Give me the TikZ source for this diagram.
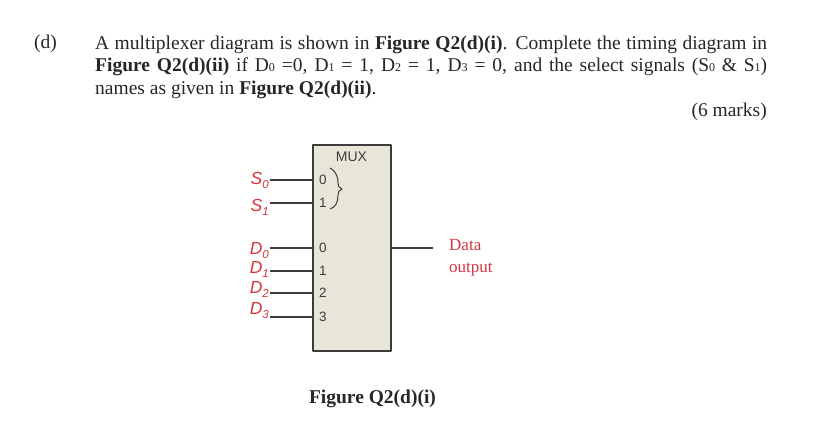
\documentclass[tikz,border=0pt]{standalone}
\usepackage{fontspec}
\setmainfont{Liberation Serif}
\setsansfont{Liberation Sans}
\definecolor{muxfill}{HTML}{E9E6D9}
\definecolor{wire}{HTML}{3C3C3C}
\definecolor{labelred}{HTML}{D8343C}
\newcommand{\bodyfont}{\fontsize{19.5}{22.5}\selectfont}
\newcommand{\sm}[1]{{\fontsize{12}{12}\selectfont #1}}
\newcommand{\sig}[2]{\textit{#1}\raisebox{-4pt}{\fontsize{11.5}{12}\selectfont\textit{#2}}}
\tikzset{
  body/.style={inner sep=0pt, font=\bodyfont, color=black!85},
  pin/.style={inner sep=0pt, font=\sffamily\fontsize{13.5}{14}\selectfont, color=wire},
  siglabel/.style={inner sep=0pt, anchor=base east, font=\sffamily\fontsize{17.5}{18}\selectfont, color=labelred},
  outlabel/.style={inner sep=0pt, anchor=base west, font=\fontsize{17}{18}\selectfont, color=labelred},
  wireline/.style={draw=wire, line width=1.3pt}
}
\begin{document}
\begin{tikzpicture}[x=1pt, y=-1pt, line join=round, line cap=butt]
\useasboundingbox (0,0) rectangle (827,433);
% question text
\node[body, anchor=base west] (part) at (34,49) {(d)};
\node[body, anchor=north west, text width=672pt, align=justify] (question) at (95,35.5) {A multiplexer diagram is shown in \textbf{Figure Q2(d)(i)}. Complete the timing diagram in\linebreak
\textbf{Figure Q2(d)(ii)} if D\sm{0} =0, D\sm{1} = 1, D\sm{2} = 1, D\sm{3} = 0, and the select signals (S\sm{0} \& S\sm{1})\linebreak
names as given in \textbf{Figure Q2(d)(ii)}.};
\node[body, anchor=base east] (marks) at (767,117) {(6 marks)};
% multiplexer box
\node[draw=wire, line width=1.5pt, fill=muxfill, minimum width=78pt, minimum height=206pt, inner sep=0pt] (mux) at (352,248) {};
\node[pin, font=\sffamily\fontsize{14}{14}\selectfont] (title) at (351.5,157) {MUX};
% select inputs
\coordinate (s0) at (270,180);
\coordinate (s1) at (270,203);
\draw[wireline] (s0) -- (s0 -| mux.west);
\draw[wireline] (s1) -- (s1 -| mux.west);
\node[siglabel] (s0label) at (269,184) {\sig{S}{0}};
\node[siglabel] (s1label) at (269,211) {\sig{S}{1}};
\node[pin] (sel0) at (323,180) {0};
\node[pin] (sel1) at (323,203) {1};
\draw[wire, line width=1pt] (330,168) .. controls (337,172) and (338,178) .. (338,183) .. controls (338,186) and (339,188) .. (342,189) .. controls (339,190) and (338,192) .. (338,195) .. controls (338,202) and (336,207) .. (330,209);
% data inputs
\coordinate (d0) at (270,248);
\coordinate (d1) at (270,271);
\coordinate (d2) at (270,293);
\coordinate (d3) at (270,317);
\draw[wireline] (d0) -- (d0 -| mux.west);
\draw[wireline] (d1) -- (d1 -| mux.west);
\draw[wireline] (d2) -- (d2 -| mux.west);
\draw[wireline] (d3) -- (d3 -| mux.west);
\node[siglabel] (d0label) at (269,254) {\sig{D}{0}};
\node[siglabel] (d1label) at (269,273) {\sig{D}{1}};
\node[siglabel] (d2label) at (269,293) {\sig{D}{2}};
\node[siglabel] (d3label) at (269,314) {\sig{D}{3}};
\node[pin] (in0) at (323,248) {0};
\node[pin] (in1) at (323,271) {1};
\node[pin] (in2) at (323,293) {2};
\node[pin] (in3) at (323,317) {3};
% output
\coordinate (out) at (433,248);
\draw[wireline] (mux.east |- out) -- (out);
\node[outlabel] (data) at (449,250) {Data};
\node[outlabel] (output) at (449,272) {output};
% caption
\node[body, anchor=base, font=\fontsize{19.5}{20}\selectfont\bfseries] (caption) at (372.5,403) {Figure Q2(d)(i)};
\end{tikzpicture}
\end{document}
